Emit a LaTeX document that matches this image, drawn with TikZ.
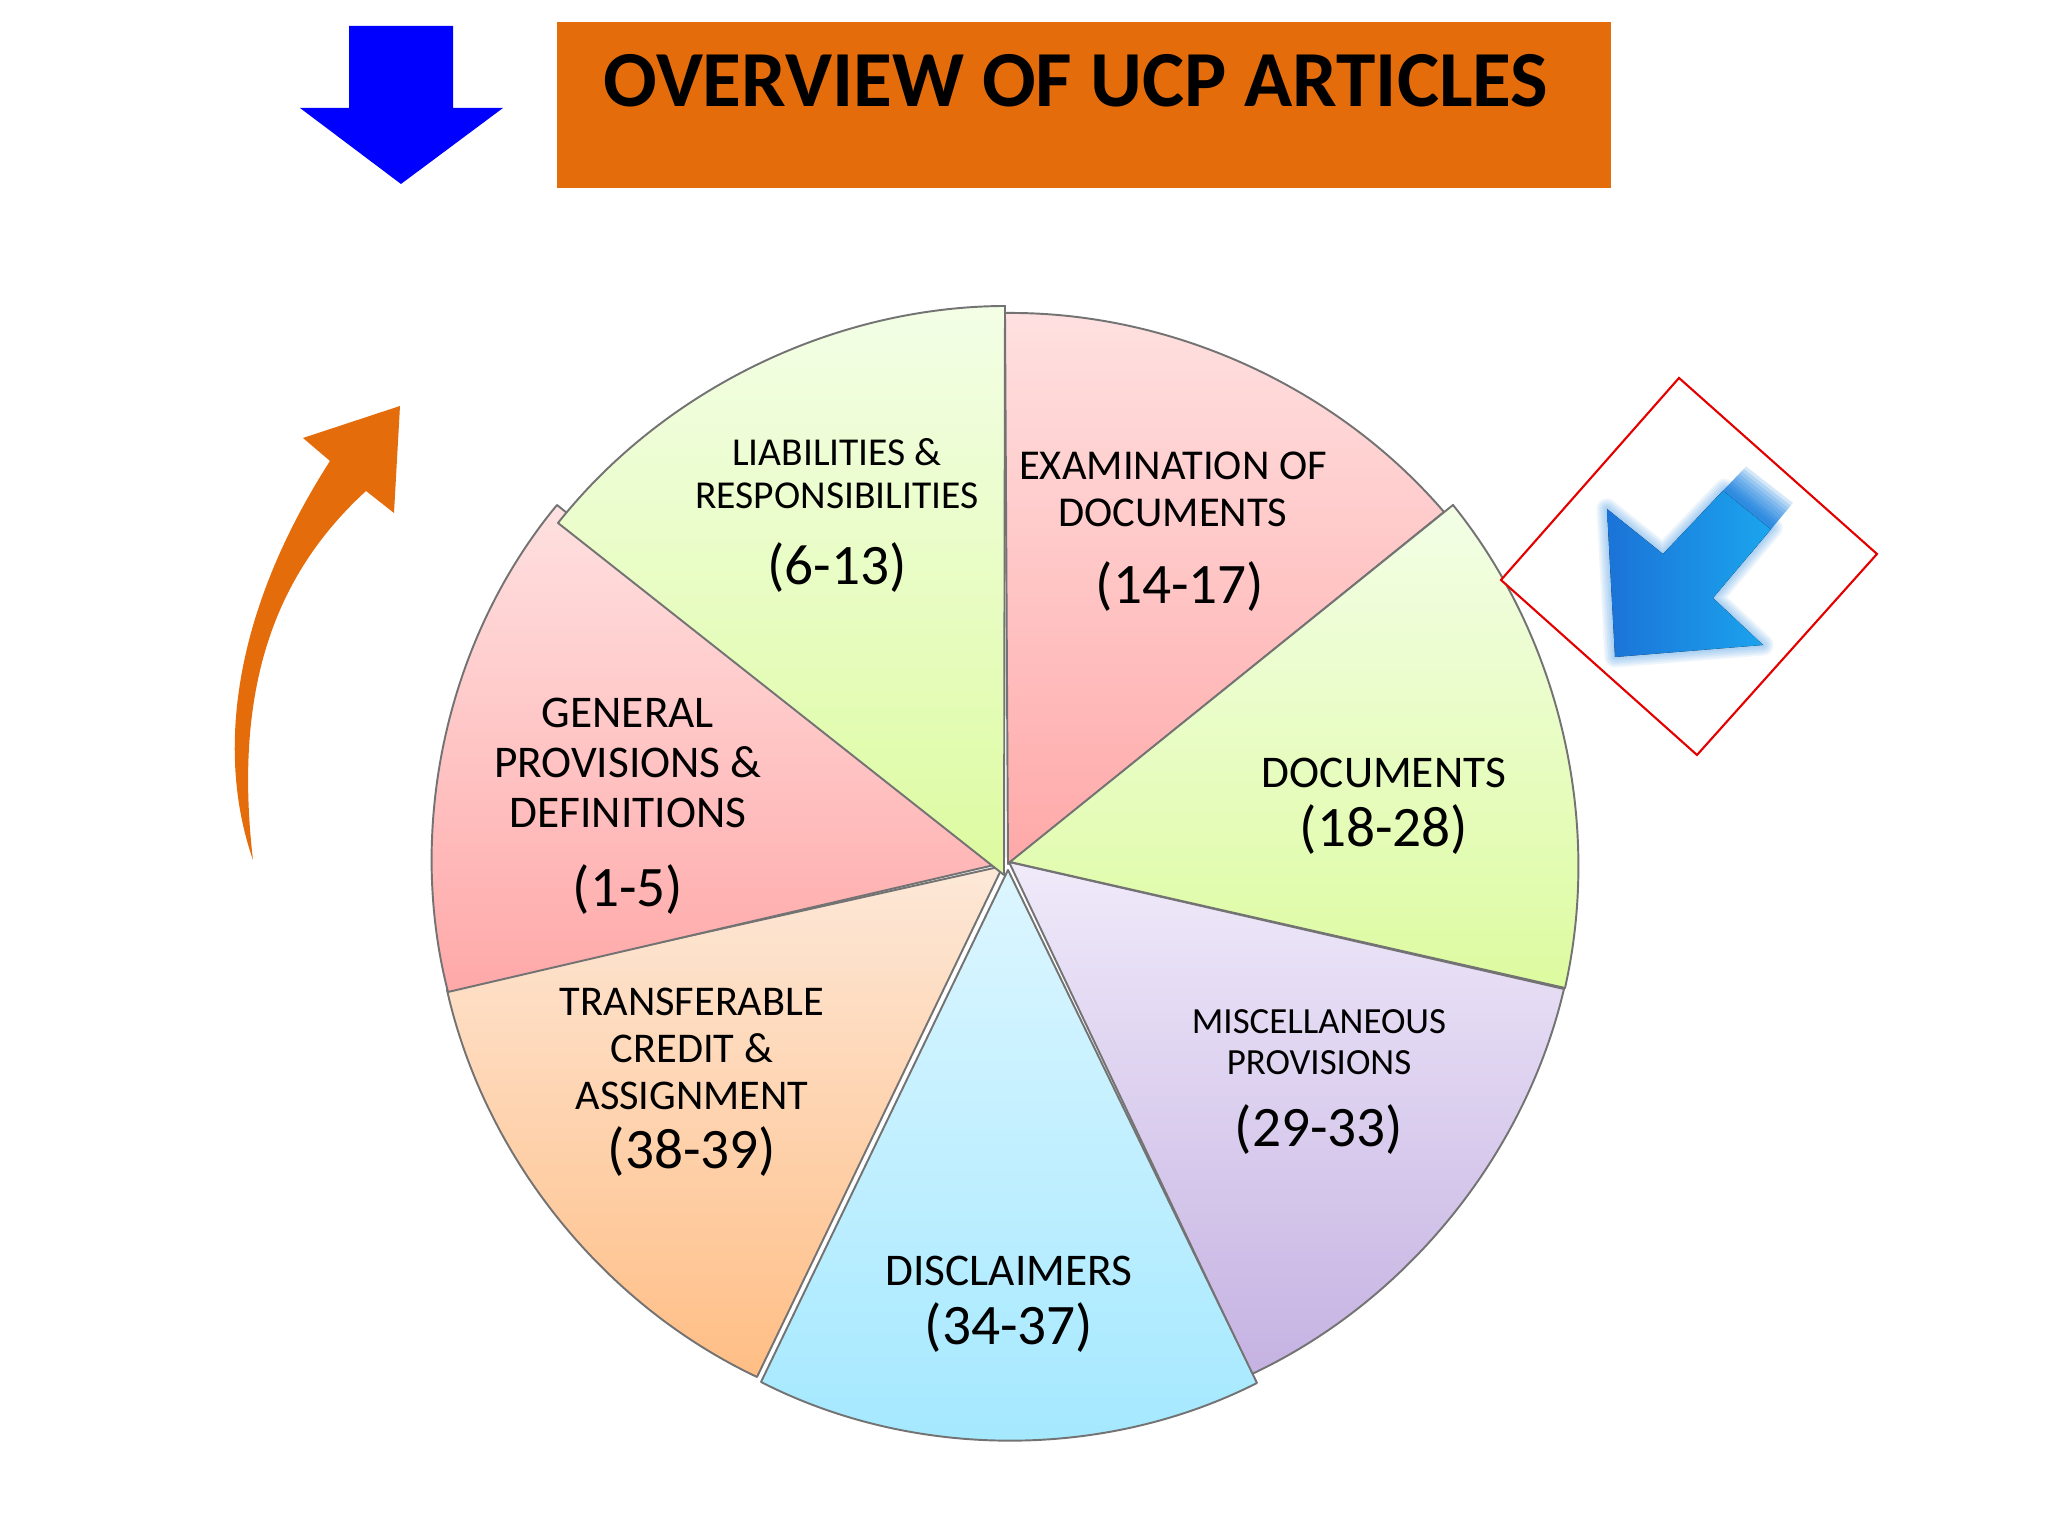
\documentclass[tikz,border=0pt]{standalone}
\usepackage{fontspec}
\setmainfont{Carlito}
\usetikzlibrary{positioning,calc}

\definecolor{titleorange}{HTML}{E46C0A}
\definecolor{arrowblue}{HTML}{1B82E0}

\begin{document}
\begin{tikzpicture}[
        slice/.style={draw=black!55, line width=0.55pt, line join=round},
        redslice/.style={slice, top color=red!12, bottom color=red!34},
        greenslice/.style={slice, top color={rgb,255:red,243;green,254;blue,230}, bottom color={rgb,255:red,221;green,251;blue,160}},
        purpleslice/.style={slice, top color={rgb,255:red,240;green,234;blue,250}, bottom color={rgb,255:red,197;green,178;blue,226}},
        blueslice/.style={slice, top color={rgb,255:red,221;green,246;blue,255}, bottom color={rgb,255:red,163;green,232;blue,255}},
        peachslice/.style={slice, top color={rgb,255:red,253;green,232;blue,216}, bottom color={rgb,255:red,255;green,190;blue,133}},
        rim/.style={bend left=#1, looseness=0.88},
        lbl/.style={align=center, inner sep=0pt, font=\fontsize{12.9}{14.2}\selectfont},
        num/.style={inner sep=0pt, font=\fontsize{16.3}{18}\selectfont}
    ]
        \useasboundingbox (0,0) rectangle (20.48,15.36);

        % Title
        \node (titlebox) [fill=titleorange, minimum width=10.54cm, minimum height=1.66cm, inner sep=0pt] at (10.84,14.31) {};
        \node (title) [inner sep=0pt, font=\bfseries\fontsize{22.6}{24}\selectfont] at (10.76,14.55) {OVERVIEW OF UCP ARTICLES};

        % Arrows on the left
        \fill [blue] (3.49,15.10) -- (4.53,15.10) -- (4.53,14.28) -- (5.03,14.28) -- (4.01,13.52) -- (3.00,14.28) -- (3.49,14.28) -- cycle;
        \fill [titleorange] (2.53,6.76) .. controls (2.18,7.76) and (2.28,9.16) .. (3.30,10.75) -- (3.03,10.98) -- (4.00,11.30) -- (3.94,10.23) -- (3.66,10.45) .. controls (2.80,9.66) and (2.32,8.56) .. (2.53,6.76) -- cycle;

        % Pie
        \draw [redslice] (10.08,6.72) -- (10.05,12.23) to[rim=25] (14.44,10.24) -- cycle;
        \draw [purpleslice] (10.09,6.74) -- (15.64,5.47) to[rim=25.8] (12.52,1.62) -- cycle;
        \draw [greenslice] (10.10,6.74) -- (14.53,10.31) to[rim=25.8] (15.65,5.48) -- cycle;
        \draw [peachslice] (10.03,6.70) -- (7.57,1.59) to[rim=26] (4.47,5.46) -- cycle;
        \draw [blueslice] (10.08,6.66) -- (12.57,1.53) to[rim=27] (7.61,1.54) -- cycle;
        \draw [redslice] (10.03,6.73) -- (4.48,5.44) to[rim=27] (5.57,10.31) -- cycle;
        \draw [greenslice] (10.04,6.61) -- (5.58,10.13) to[rim=25.7] (10.05,12.30) -- cycle;

        % Labels
        \node (exam) [lbl, font=\fontsize{12.1}{13.4}\selectfont] at (11.73,10.47) {EXAMINATION OF\\DOCUMENTS};
        \node (examnum) [num] at (11.80,9.49) {(14-17)};
        \node (docs) [lbl] at (13.84,7.63) {DOCUMENTS};
        \node (docsnum) [num] at (13.84,7.06) {(18-28)};
        \node (misc) [lbl, font=\fontsize{10.5}{11.6}\selectfont] at (13.19,4.94) {MISCELLANEOUS\\PROVISIONS};
        \node (miscnum) [num] at (13.19,4.06) {(29-33)};
        \node (disc) [lbl] at (10.09,2.65) {DISCLAIMERS};
        \node (discnum) [num] at (10.09,2.08) {(34-37)};
        \node (trans) [lbl, font=\fontsize{12.05}{13.4}\selectfont] at (6.92,4.87) {TRANSFERABLE\\CREDIT \&\\ASSIGNMENT};
        \node (transnum) [num] at (6.92,3.84) {(38-39)};
        \node (gen) [lbl] at (6.28,7.73) {GENERAL\\PROVISIONS \&\\DEFINITIONS};
        \node (gennum) [num] at (6.28,6.46) {(1-5)};
        \node (liab) [lbl, font=\fontsize{11.25}{12.3}\selectfont] at (8.37,10.62) {LIABILITIES \&\\RESPONSIBILITIES};
        \node (liabnum) [num] at (8.37,9.68) {(6-13)};

        % Blurred arrow in the red diamond
        \draw [red!90!black, line width=0.6pt, fill=white, line join=miter] (16.79,11.58) -- (18.77,9.82) -- (16.97,7.81) -- (15.01,9.56) -- cycle;
        \coordinate (tipA) at (16.15,8.79);
        \coordinate (headB) at (16.07,10.27);
        \coordinate (notchA) at (16.63,9.82);
        \coordinate (shaftA) at (17.40,10.63);
        \coordinate (shaftB) at (17.87,10.26);
        \coordinate (notchB) at (17.13,9.38);
        \coordinate (headC) at (17.63,8.91);
        \foreach \w in {1pt,2pt,3pt,4pt,5pt,6pt}{
            \draw [arrowblue, line width=\w, opacity=.07, line join=round] (tipA) -- (headB) -- (notchA) -- ($(notchA)!0.8!(shaftA)$) -- ($(notchB)!0.8!(shaftB)$) -- (notchB) -- (headC) -- cycle;
        }
        \foreach \t in {1.08,1.05,1.02,0.99,0.96,0.93,0.9,0.87,0.84,0.81}{
            \fill [arrowblue, opacity=.18] ($(notchA)!\t!(shaftA)$) -- ($(notchB)!\t!(shaftB)$) -- ($(notchB)!0.5!(shaftB)$) -- ($(notchA)!0.5!(shaftA)$) -- cycle;
        }
        \fill [left color={rgb,255:red,27;green,115;blue,215}, right color={rgb,255:red,27;green,165;blue,238}] (tipA) -- (headB) -- (notchA) -- ($(notchA)!0.78!(shaftA)$) -- ($(notchB)!0.78!(shaftB)$) -- (notchB) -- (headC) -- cycle;
    \end{tikzpicture}
\end{document}
